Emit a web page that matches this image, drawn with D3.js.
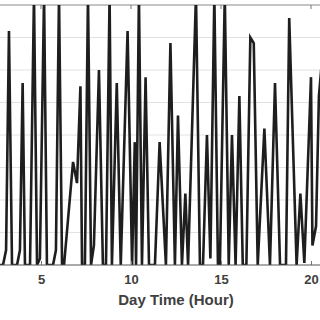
<!DOCTYPE html>
<html>
<head>
<meta charset="utf-8">
<script src="https://cdn.jsdelivr.net/npm/d3@7"></script>
<style>
	body { margin: 0; background: #fff; }
	svg { display: block; }
</style>
</head>
<body>
<div id="chart"></div>
<script>
var w = 320,
	h = 320;

// hour of day for each sample
var hours = [2.72, 2.89, 3.06, 3.22, 3.39, 3.67, 3.83, 3.98, 4.11, 4.39,
	4.61, 4.78, 4.94, 5.17, 5.33, 5.67, 5.83, 6.0, 6.17, 6.28,
	6.78, 7.0, 7.19, 7.28, 7.44, 7.61, 7.78, 7.94, 8.22, 8.44,
	8.61, 8.81, 8.94, 9.21, 9.43, 9.81, 10.06, 10.21, 10.28, 10.44,
	10.61, 10.81, 11.0, 11.33, 11.59, 11.94, 12.19, 12.44, 12.61, 12.83,
	13.02, 13.17, 13.61, 13.83, 14.0, 14.22, 14.41, 14.63, 14.83, 14.94,
	15.21, 15.43, 15.61, 15.81, 16.02, 16.21, 16.41, 16.63, 16.82, 17.04,
	17.41, 17.72, 18.0, 18.28, 18.61, 18.79, 19.2, 19.41, 19.63, 20.0,
	20.08, 20.28, 20.44, 20.61];

// measured level
var values = [0, 0, 0.46, 7.2, 0, 0, 0.46, 5.6, 0, 0,
	8.3, 0, 0.2, 8.3, 0, 0, 0.46, 8.3, 0, 0,
	3.17, 2.52, 5.5, 0, 0, 8.3, 0, 0.6, 6.0, 0,
	0, 8.3, 0, 5.6, 0, 7.2, 0, 3.78, 0, 8.3,
	0, 5.78, 0, 0, 3.78, 0, 6.83, 0, 4.6, 0,
	2.2, 0, 8.3, 0, 0, 4.0, 0.2, 8.3, 0, 0,
	8.3, 0, 4.0, 0, 5.2, 0, 0, 7.0, 6.83, 0,
	4.2, 0, 5.6, 0, 0, 7.6, 0, 2.2, 0.06, 5.78,
	0.6, 1.2, 5.2, 6.3];

var xTicks = [5, 10, 15, 20];
var yGrid = [1, 2, 3, 4, 5, 6, 7];

var svg = d3.select("#chart").append("svg").attr("width", w).attr("height", h)
	.style("font-family", "'Liberation Sans', Arial, sans-serif");

var x = d3.scaleLinear().domain([5, 20]).range([41, 311]);
var y = d3.scaleLinear().domain([0, 8]).range([265, 5]);

svg.append("clipPath").attr("id", "plot")
	.append("rect").attr("x", 0).attr("y", 5).attr("width", w).attr("height", 260);

// horizontal grid
svg.selectAll("line.grid").data(yGrid).enter().append("line")
	.attr("class", "grid")
	.attr("x1", 0).attr("x2", w)
	.attr("y1", function(d) { return y(d); })
	.attr("y2", function(d) { return y(d); })
	.style("stroke", "#e2e2e2").style("stroke-width", 1);

// top border
svg.append("line").attr("x1", 0).attr("x2", w).attr("y1", y(8)).attr("y2", y(8))
	.style("stroke", "#8a8a8a").style("stroke-width", 1);

var pts = hours.map(function(d, i) { return [d, values[i]]; });

var line = d3.line()
	.x(function(d) { return x(d[0]); })
	.y(function(d) { return y(d[1]); });

svg.append("path").datum(pts)
	.attr("clip-path", "url(#plot)")
	.attr("d", line)
	.style("fill", "none")
	.style("stroke", "#1e1e1e")
	.style("stroke-width", 2.6)
	.style("stroke-linejoin", "miter");

// bottom axis
var xAxis = d3.axisBottom(x).tickValues(xTicks).tickSizeInner(-4).tickSizeOuter(0).tickPadding(10);
var gx = svg.append("g").attr("transform", "translate(0," + y(0) + ")").call(xAxis);
gx.select(".domain").remove();
gx.append("line").attr("x1", 0).attr("x2", w).style("stroke", "#555").style("stroke-width", 1);
gx.selectAll(".tick line").style("stroke", "#777");
gx.selectAll(".tick text")
	.style("font-size", "13px").style("font-weight", "bold").style("fill", "#404040")
	.style("font-family", "'Liberation Sans', Arial, sans-serif");

// top ticks
svg.selectAll("line.ttick").data(xTicks).enter().append("line")
	.attr("class", "ttick")
	.attr("x1", function(d) { return x(d); }).attr("x2", function(d) { return x(d); })
	.attr("y1", y(8)).attr("y2", y(8) + 4)
	.style("stroke", "#777");

svg.append("text").attr("x", 176).attr("y", 305)
	.attr("text-anchor", "middle")
	.style("font-size", "15px").style("font-weight", "bold").style("fill", "#404040")
	.text("Day Time (Hour)");
</script>
</body>
</html>
